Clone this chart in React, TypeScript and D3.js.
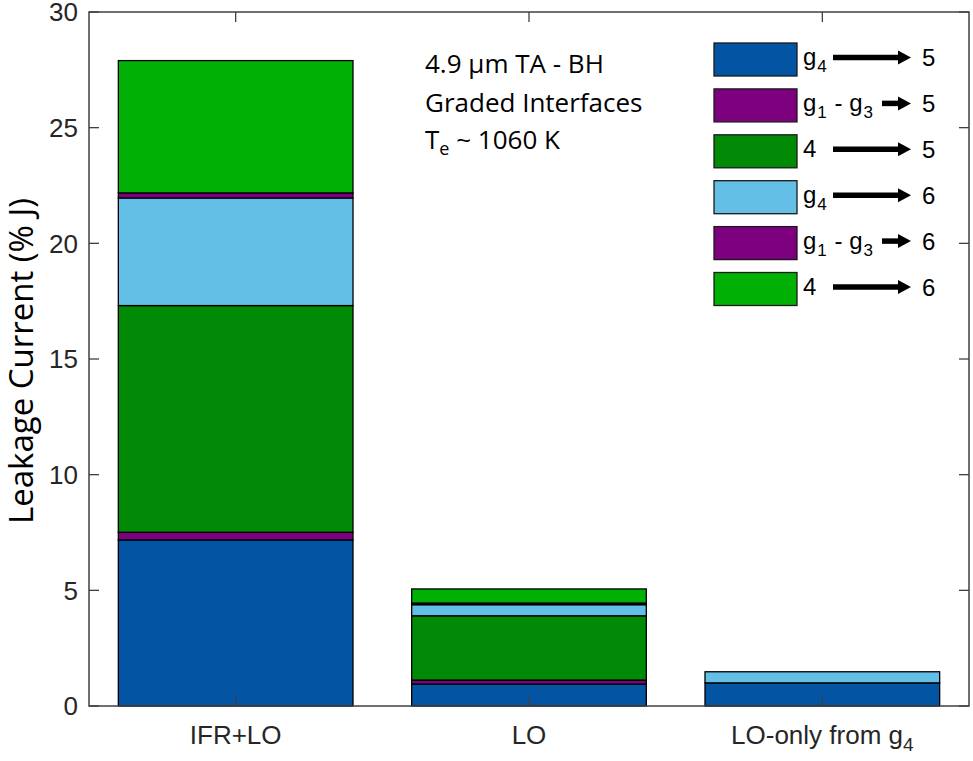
import { scaleBand, scaleLinear, stack } from "d3";

const categories = ["IFR+LO", "LO", "LO-only from g4"];
const seriesKeys = ["g4to5", "g13to5", "f4to5", "g4to6", "g13to6", "f4to6"];
const g4to5 = [7.18, 0.95, 1.0];
const g13to5 = [0.33, 0.17, 0];
const f4to5 = [9.8, 2.78, 0];
const g4to6 = [4.65, 0.48, 0.48];
const g13to6 = [0.22, 0.07, 0];
const f4to6 = [5.72, 0.61, 0];
const seriesColors = ["#0354a3", "#7d007f", "#008a05", "#64bfe6", "#7d007f", "#00b005"];
const yTicks = [0, 5, 10, 15, 20, 25, 30];

// legend rows: main text, subscript, tail text, tail subscript, target level
const legendRows = [
  { a: "g", sa: "4", b: "", sb: "", to: "5" },
  { a: "g", sa: "1", b: " - g", sb: "3", to: "5" },
  { a: "4", sa: "", b: "", sb: "", to: "5" },
  { a: "g", sa: "4", b: "", sb: "", to: "6" },
  { a: "g", sa: "1", b: " - g", sb: "3", to: "6" },
  { a: "4", sa: "", b: "", sb: "", to: "6" },
];

const W = 973;
const H = 761;
const left = 89;
const right = 969;
const top = 12;
const bottom = 706;
const axisColor = "#404040";
const tickFont = "'Liberation Sans', Arial, sans-serif";
const labelFont = "'Open Sans', 'Noto Sans', sans-serif";

function Arrow({ x1, x2, y }: { x1: number; x2: number; y: number }) {
  const head = 13;
  return (
    <g>
      <line x1={x1} x2={x2 - head + 1} y1={y} y2={y} stroke="#000" strokeWidth={5.5} />
      <polygon points={`${x2},${y} ${x2 - head},${y - 7} ${x2 - head},${y + 7}`} fill="#000" />
    </g>
  );
}

export default function App() {
  const rows = categories.map((c, i) => ({
    cat: c,
    g4to5: g4to5[i],
    g13to5: g13to5[i],
    f4to5: f4to5[i],
    g4to6: g4to6[i],
    g13to6: g13to6[i],
    f4to6: f4to6[i],
  }));
  const stacked = stack<any>().keys(seriesKeys)(rows);

  const x = scaleBand<string>()
    .domain(categories)
    .range([left, right])
    .paddingInner(0.2)
    .paddingOuter(0.1);
  const y = scaleLinear().domain([0, 30]).range([bottom, top]);

  return (
    <svg
      width={W}
      height={H}
      style={{ position: "absolute", left: 0, top: 0, background: "#fff" }}
    >
      <rect x={0} y={0} width={W} height={H} fill="#fff" />

      {stacked.map((s, si) => (
        <g key={seriesKeys[si]}>
          {s.map((d, i) => (
            <rect
              key={categories[i]}
              x={x(categories[i])}
              y={y(d[1])}
              width={x.bandwidth()}
              height={y(d[0]) - y(d[1])}
              fill={seriesColors[si]}
              stroke="#000"
              strokeWidth={1.3}
            />
          ))}
        </g>
      ))}

      {/* axes box */}
      <rect x={left} y={top} width={right - left} height={bottom - top} fill="none" stroke={axisColor} strokeWidth={1.5} />
      {yTicks.map((t) => (
        <g key={t}>
          <line x1={left} x2={left + 10} y1={y(t)} y2={y(t)} stroke={axisColor} strokeWidth={1.3} />
          <line x1={right} x2={right - 10} y1={y(t)} y2={y(t)} stroke={axisColor} strokeWidth={1.3} />
          <text
            x={left - 11}
            y={y(t)}
            dy="0.36em"
            textAnchor="end"
            fontFamily={tickFont}
            fontSize={26}
            fill="#262626"
          >
            {t}
          </text>
        </g>
      ))}
      {categories.map((c) => {
        const cx = (x(c) as number) + x.bandwidth() / 2;
        return (
          <g key={c}>
            <line x1={cx} x2={cx} y1={bottom} y2={bottom - 10} stroke={axisColor} strokeWidth={1.3} />
            <line x1={cx} x2={cx} y1={top} y2={top + 10} stroke={axisColor} strokeWidth={1.3} />
            <text x={cx} y={744} textAnchor="middle" fontFamily={tickFont} fontSize={26} fill="#262626">
              {c === "LO-only from g4" ? (
                <>
                  LO-only from g
                  <tspan fontSize={19} dy={7}>4</tspan>
                </>
              ) : (
                c
              )}
            </text>
          </g>
        );
      })}

      <text
        transform={`translate(33, ${(top + bottom) / 2 + 2}) rotate(-90)`}
        textAnchor="middle"
        fontFamily={labelFont}
        fontSize={33}
        fill="#000"
      >
        Leakage Current (% J)
      </text>

      {/* annotation */}
      <g fontFamily={labelFont} fontSize={26} fill="#000">
        <text x={425} y={73}>4.9 µm TA - BH</text>
        <text x={425} y={112}>Graded Interfaces</text>
        <text x={425} y={149}>
          T<tspan fontSize={18} dy={6}>e</tspan>
          <tspan dy={-6}> ~ 1060 K</tspan>
        </text>
      </g>

      {/* legend */}
      {legendRows.map((r, i) => {
        const by = 43 + i * 45.9;
        const arrowStart = r.b ? 882 : 833;
        return (
          <g key={i}>
            <rect x={714} y={by} width={83} height={33} fill={seriesColors[i]} stroke="#1a1a1a" strokeWidth={1.3} />
            <text x={803} y={by + 22} fontFamily={tickFont} fontSize={24} fill="#000">
              {r.a}
              {r.sa && <tspan fontSize={17} dx={1} dy={7}>{r.sa}</tspan>}
              {r.b && <tspan dx={1} dy={r.sa ? -7 : 0}>{r.b}</tspan>}
              {r.sb && <tspan fontSize={17} dx={1} dy={7}>{r.sb}</tspan>}
            </text>
            <Arrow x1={arrowStart} x2={911} y={by + 14.5} />
            <text x={922} y={by + 23} fontFamily={tickFont} fontSize={24} fill="#000">
              {r.to}
            </text>
          </g>
        );
      })}
    </svg>
  );
}
